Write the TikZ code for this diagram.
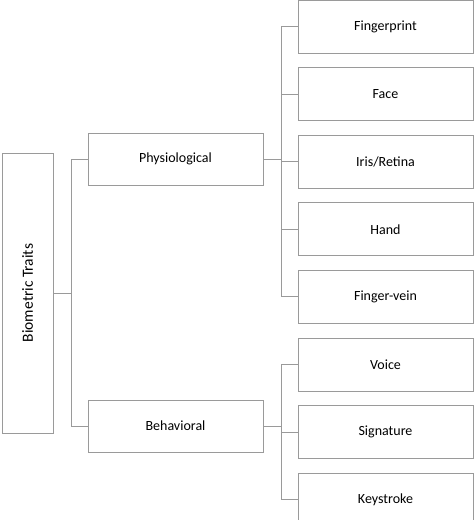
\documentclass[tikz,border=0pt]{standalone}
\usepackage{fontspec}
\setmainfont{Carlito}
\usepackage{tikz}
\usetikzlibrary{positioning}
\definecolor{edge}{HTML}{9A9A9A}

\begin{document}
\begin{tikzpicture}[
  x=1pt, y=-1pt,
  font=\fontsize{14}{16}\selectfont,
  trait/.style={draw=edge, line width=1pt, minimum width=175pt, minimum height=53pt, inner sep=0pt},
  group/.style={draw=edge, line width=1pt, minimum width=175pt, minimum height=52pt, inner sep=0pt},
  link/.style={draw=edge, line width=0.9pt}]
  \useasboundingbox (0,0) rectangle (474,520);
  % root
  \node[draw=edge, line width=1pt, minimum width=280pt, minimum height=51pt, rotate=90, inner sep=0pt, font=\fontsize{15.5}{17}\selectfont] (root) at (27.5,293) {Biometric Traits};
  % classes
  \node[group] (phys) at (175.5,159) {Physiological};
  \node[group] (behav) at (175.5,426) {Behavioral};
  % physiological traits
  \node[trait] (fp) at (385.5,26.5) {Fingerprint};
  \node[trait, below=13.6pt of fp] (face) {Face};
  \node[trait, below=13.6pt of face] (iris) {Iris/Retina};
  \node[trait, below=13.6pt of iris] (hand) {Hand};
  \node[trait, below=13.6pt of hand] (vein) {Finger-vein};
  % behavioral traits
  \node[trait, below=13.6pt of vein] (voice) {Voice};
  \node[trait, below=13.6pt of voice] (sign) {Signature};
  \node[trait, below=13.6pt of sign] (keys) {Keystroke};
  % connectors
  \draw[link] (root.south) -- ++(18,0) coordinate (j0);
  \draw[link] (j0) |- (phys.west);
  \draw[link] (j0) |- (behav.west);
  \draw[link] (phys.east) -- ++(18,0) coordinate (j1);
  \foreach \n in {fp,face,iris,hand,vein}
    \draw[link] (j1) |- (\n.west);
  \draw[link] (behav.east) -- ++(18,0) coordinate (j2);
  \foreach \n in {voice,sign,keys}
    \draw[link] (j2) |- (\n.west);
\end{tikzpicture}
\end{document}
